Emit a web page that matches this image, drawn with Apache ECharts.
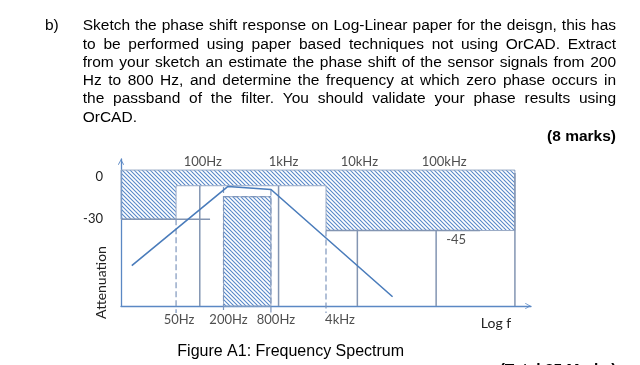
<!DOCTYPE html>
<html><head><meta charset="utf-8">
<script src="https://cdn.jsdelivr.net/npm/echarts@6/dist/echarts.min.js"></script>
<style>html,body{margin:0;padding:0;background:#fff}#c{width:640px;height:365px}</style>
</head><body><div id="c"></div>
<script>
// ---------- data ----------
var paragraphLines = [
  'Sketch the phase shift response on Log-Linear paper for the deisgn, this has',
  'to be performed using paper based techniques not using OrCAD. Extract',
  'from your sketch an estimate the phase shift of the sensor signals from 200',
  'Hz to 800 Hz, and determine the frequency at which zero phase occurs in',
  'the passband of the filter. You should validate your phase results using',
  'OrCAD.'
];
var yTickValues = [0, -30];
var topLabelNames = ['100Hz', '1kHz', '10kHz', '100kHz'];
var topLabelFreqs = [100, 1000, 10000, 100000];
var bottomLabelNames = ['50Hz', '200Hz', '800Hz', '4kHz'];
var bottomLabelFreqs = [50, 200, 800, 4000];
var responseFreqs = [13.7, 228, 802, 28000];
var responseDb = [-63.2, -6.6, -8.8, -85.4];
var stopbandMask = [[10, 5.1], [1e6, 5.1], [1e6, -38.1], [4000, -38.1], [4000, -6.1], [50, -6.1], [50, -30], [10, -30]];
var passbandBar = [[200, -13.9], [800, -13.9], [800, -92], [200, -92]];
var solidSegments = [
  [10, -30, 135, -30],
  [100, -6.1, 100, -92],
  [1000, -6.1, 1000, -92],
  [10000, -38.1, 10000, -92],
  [100000, -38.1, 100000, -92],
  [1e6, 3, 1e6, -92],
  [4000, -38.1, 360000, -38.1]
];
var dashedSegments = [
  [50, -30, 50, -97],
  [200, -7, 200, -97],
  [800, -8.8, 800, -97],
  [4000, -38.1, 4000, -97],
  [200, -13.9, 800, -13.9]
];
var levelLabelFreq = 100000, levelLabelDb = -45, levelLabelText = '-45';

// ---------- helpers ----------
function makeHatch() {
  var c = document.createElement('canvas'); c.width = 8; c.height = 8;
  var g = c.getContext('2d');
  g.strokeStyle = '#5687c8'; g.lineWidth = 1.1;
  for (var k = -4; k <= 4; k++) {
    var o = k * 4;
    g.beginPath(); g.moveTo(o - 4, -4); g.lineTo(o + 12, 12); g.stroke();
  }
  return c;
}
var hatch = { image: makeHatch(), repeat: 'repeat' };

var mctx = document.createElement('canvas').getContext('2d');
function measure(t, font) { mctx.font = font; return mctx.measureText(t).width; }
function txt(t, x, y, font, align, fill, rot) {
  return { type: 'text', x: x, y: y, rotation: rot || 0, silent: true, z: 10,
    style: { text: t, font: font, fill: fill || '#000', textAlign: align || 'left', textVerticalAlign: 'middle', align: align || 'left', verticalAlign: 'middle' } };
}

var pFont = '15.5px "Liberation Sans", Arial, sans-serif';
var graphics = [];
graphics.push(txt('b)', 45, 26, pFont));
paragraphLines.forEach(function (line, i) {
  var y = 26 + i * 18.3, x0 = 82.7, x1 = 616;
  var words = line.split(' ');
  if (i < paragraphLines.length - 1 && words.length > 1) {
    var total = 0; words.forEach(function (w) { total += measure(w, pFont); });
    var gap = (x1 - x0 - total) / (words.length - 1);
    var x = x0;
    words.forEach(function (w) { graphics.push(txt(w, x, y, pFont)); x += measure(w, pFont) + gap; });
  } else {
    graphics.push(txt(line, x0, y, pFont));
  }
});
graphics.push(txt('(8 marks)', 616, 136.7, 'bold 15.5px "Liberation Sans", Arial, sans-serif', 'right'));
graphics.push(txt('Figure A1: Frequency Spectrum', 177.3, 351.7, '16px "Liberation Sans", Arial, sans-serif'));
graphics.push(txt('(Total 25 Marks)', 616.5, 369.5, 'bold 15.5px "Liberation Sans", Arial, sans-serif', 'right'));
graphics.push(txt('Attenuation', 101.7, 282.5, '14px Lato, sans-serif', 'center', '#222', Math.PI / 2));
graphics.push(txt('Log f', 496, 323.5, '14px Lato, sans-serif', 'center', '#222'));

var arrowPath = 'path://M5,0 L10,9 L8.9,9.7 L5,2.6 L1.1,9.7 L0,9 Z M5,-10 L5.01,-10 L5,-9.99 Z';
var axisColor = '#5b88c4';
var frameColor = '#8395b2';
var lblFont = { fontFamily: 'Lato', fontSize: 13, color: '#222' };
var topShift = [3, 5, 2, 8];
var bottomShift = [3, 5, 5, 14];

function segRender(dash, color, width) {
  return function (params, api) {
    var p1 = api.coord([api.value(0), api.value(1)]);
    var p2 = api.coord([api.value(2), api.value(3)]);
    return { type: 'line', shape: { x1: p1[0], y1: p1[1], x2: p2[0], y2: p2[1] },
      style: { stroke: color, lineWidth: width, lineDash: dash } };
  };
}
var polys = [stopbandMask, passbandBar];

var option = {
  animation: false,
  grid: { left: 121, top: 159, right: 109, bottom: 59 },
  xAxis: {
    type: 'log', logBase: 10, min: 10, max: 1.6e6,
    axisLine: { show: true, onZero: false, symbol: ['none', arrowPath], symbolSize: [8, 12], lineStyle: { color: axisColor, width: 1.3 } },
    axisTick: { show: false }, axisLabel: { show: false }, splitLine: { show: false }
  },
  yAxis: {
    type: 'value', min: -92, max: 13,
    axisLine: { show: true, onZero: false, symbol: ['none', arrowPath], symbolSize: [8, 12], lineStyle: { color: axisColor, width: 1.3 } },
    axisTick: { show: false }, splitLine: { show: false },
    axisLabel: { customValues: yTickValues, margin: 18, fontFamily: 'Lato', fontSize: 13, color: '#222' }
  },
  graphic: graphics,
  series: [
    {
      type: 'custom', silent: true, clip: false, z: 1,
      data: polys.map(function (p, i) { return [p[0][0], p[0][1], i]; }),
      renderItem: function (params, api) {
        var poly = polys[api.value(2)];
        var pts = poly.map(function (pt) { return api.coord(pt); });
        return { type: 'polygon', shape: { points: pts }, style: { fill: hatch, stroke: '#9aabc6', lineWidth: 1 } };
      }
    },
    {
      type: 'custom', silent: true, clip: false, z: 2,
      data: solidSegments, renderItem: segRender(null, frameColor, 1.5)
    },
    {
      type: 'custom', silent: true, clip: false, z: 2,
      data: dashedSegments, renderItem: segRender([6, 3], '#7f97bd', 1.2)
    },
    {
      type: 'line', silent: true, z: 3, symbol: 'none',
      data: responseFreqs.map(function (f, i) { return [f, responseDb[i]]; }),
      lineStyle: { color: '#4a7cbb', width: 1.6 }
    },
    {
      type: 'scatter', silent: true, clip: false, symbolSize: 0, z: 5,
      data: topLabelFreqs.map(function (f, i) {
        return { value: [f, 11.2], label: { show: true, position: 'inside', formatter: topLabelNames[i], offset: [topShift[i], 0] } };
      }).concat(bottomLabelFreqs.map(function (f, i) {
        return { value: [f, -101.6], label: { show: true, position: 'inside', formatter: bottomLabelNames[i], offset: [bottomShift[i], 0] } };
      })).concat([{ value: [levelLabelFreq, levelLabelDb], label: { show: true, position: 'right', distance: 0, formatter: levelLabelText, offset: [10, 0] } }]),
      label: lblFont
    }
  ]
};
var chart = echarts.init(document.getElementById('c'));
chart.setOption(option);
</script></body></html>
